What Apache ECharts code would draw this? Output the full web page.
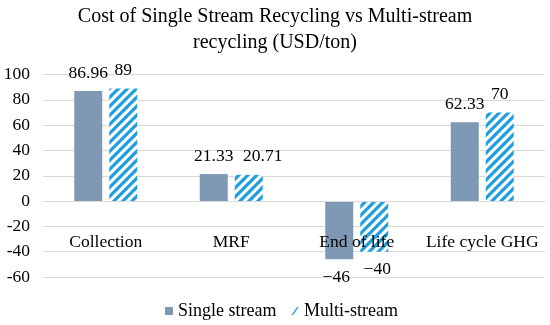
<!DOCTYPE html>
<html>
<head>
<meta charset="utf-8">
<script src="https://cdn.jsdelivr.net/npm/echarts@6/dist/echarts.min.js"></script>
<style>html,body{margin:0;padding:0;background:#fff}#c{width:550px;height:325px}</style>
</head>
<body>
<div id="c"></div>
<script>
var categories = ['Collection', 'MRF', 'End of life', 'Life cycle GHG'];
var singleStream = [86.96, 21.33, -46, 62.33];
var multiStream = [89, 20.71, -40, 70];
var yTicks = [-60, -40, -20, 0, 20, 40, 60, 80, 100];
var seriesNames = ['Single stream', 'Multi-stream'];

var FONT = "'Liberation Serif', 'Times New Roman', serif";
var FS = 17.5;
var SINGLE_COLOR = '#7F99B4';
var HATCH_COLOR = '#1F9FE0';

function makeHatch() {
  var s = 9;
  var cv = document.createElement('canvas');
  cv.width = s; cv.height = s;
  var ctx = cv.getContext('2d');
  ctx.fillStyle = '#fff';
  ctx.fillRect(0, 0, s, s);
  ctx.strokeStyle = HATCH_COLOR;
  ctx.lineWidth = 3.2;
  ctx.beginPath();
  ctx.moveTo(-1, s + 1); ctx.lineTo(s + 1, -1);
  ctx.moveTo(-s - 1, s + 1); ctx.lineTo(1, -1);
  ctx.moveTo(s - 1, s + 1); ctx.lineTo(2 * s + 1, -1);
  ctx.stroke();
  return cv;
}

// label nudges mimicking the spreadsheet's overlap avoidance (style only)
var labelNudge = { 'Multi-stream|1': [14, 0], 'Single stream|2': [-3, 0], 'Multi-stream|2': [3, 0] };

function toItems(arr, name) {
  return arr.map(function (v, i) {
    var lab = { position: v < 0 ? 'bottom' : 'top' };
    var n = labelNudge[name + '|' + i];
    if (n) lab.offset = n;
    return { value: v, label: lab };
  });
}

function fmt(p) {
  var v = p.value;
  return v < 0 ? '\u2212' + Math.abs(v) : String(v);
}

var chart = echarts.init(document.getElementById('c'), null, { renderer: 'canvas' });
var labelStyle = { show: true, fontFamily: FONT, fontSize: FS, color: '#000', distance: 9, formatter: fmt };

chart.setOption({
  animation: false,
  textStyle: { fontFamily: FONT },
  title: {
    text: 'Cost of Single Stream Recycling vs Multi-stream\nrecycling (USD/ton)',
    left: 'center',
    top: -1,
    textStyle: { fontFamily: FONT, fontSize: 20, fontWeight: 'normal', color: '#000', lineHeight: 26 }
  },
  legend: {
    bottom: 0,
    left: 160,
    itemGap: 15,
    itemWidth: 8,
    itemHeight: 8,
    textStyle: { fontFamily: FONT, fontSize: FS + 0.5, color: '#000' },
    data: [
      { name: seriesNames[0], icon: 'rect', itemStyle: { color: SINGLE_COLOR } },
      { name: seriesNames[1], icon: 'path://M0,10 L7,0 L9,0 L2,10 Z', itemStyle: { color: HATCH_COLOR } }
    ]
  },
  grid: { left: 43, right: 5, top: 74.5, bottom: 48, containLabel: false },
  xAxis: {
    type: 'category',
    data: categories,
    z: 10,
    axisLine: { onZero: true, lineStyle: { color: '#D9D9D9', width: 1 } },
    axisTick: { show: false },
    axisLabel: { interval: 0, fontFamily: FONT, fontSize: FS, color: '#000', margin: -44 }
  },
  yAxis: {
    type: 'value',
    min: yTicks[0],
    max: yTicks[yTicks.length - 1],
    interval: 20,
    axisLine: { show: false },
    axisTick: { show: false },
    splitLine: { lineStyle: { color: '#D9D9D9', width: 1 } },
    axisLabel: { fontFamily: FONT, fontSize: FS, color: '#000', margin: 13 }
  },
  series: [
    {
      name: seriesNames[0], type: 'bar', data: toItems(singleStream, seriesNames[0]),
      barWidth: 28, barGap: '25%',
      itemStyle: { color: SINGLE_COLOR },
      label: labelStyle
    },
    {
      name: seriesNames[1], type: 'bar', data: toItems(multiStream, seriesNames[1]),
      barWidth: 28, barGap: '25%',
      itemStyle: { color: { image: makeHatch(), repeat: 'repeat' } },
      label: labelStyle
    }
  ]
});
</script>
</body>
</html>
